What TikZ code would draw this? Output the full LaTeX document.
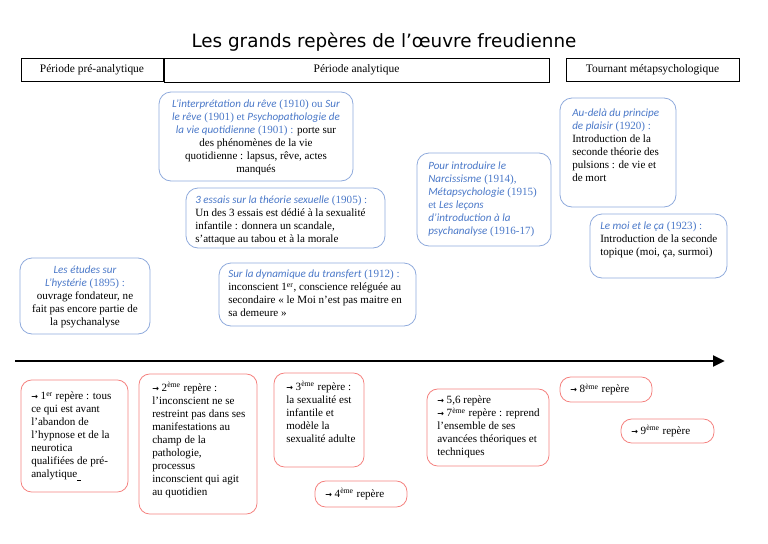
\documentclass[tikz,border=0pt]{standalone}
\usepackage{fontspec}
\setmainfont{Liberation Serif}
\newfontfamily\titlefont{DejaVu Sans}
\newfontfamily\bookfont{Carlito}
\newfontfamily\arrowfont{DejaVu Sans}
\usetikzlibrary{arrows.meta}

\definecolor{booktext}{HTML}{4A78C8}
\definecolor{bookline}{HTML}{8FAADC}
\definecolor{markline}{HTML}{F4817F}

\newcommand{\oeuvre}[1]{{\bookfont\itshape #1}}
\newcommand{\fl}{{\arrowfont\fontsize{6}{6}\selectfont\bfseries →}\ }
\newcommand{\eme}{\textsuperscript{ème}}

\begin{document}
\begin{tikzpicture}[x = 0.75pt, y = -0.75pt,
  bluebox/.style = {draw = bookline, line width = 0.6pt, rounded corners = 9pt},
  redbox/.style = {draw = markline, line width = 0.6pt, rounded corners = 8pt},
  headbox/.style = {draw, line width = 0.5pt, inner sep = 0pt, font = \fontsize{8.6}{9.75}\selectfont},
  txt/.style = {inner sep = 0pt, font = \fontsize{8.3}{9.75}\selectfont}]
\useasboundingbox (0, 0) rectangle (768, 543);
\node [inner sep = 0pt, font = \titlefont\fontsize{13.75}{15}\selectfont] (titre) at (384, 42) {Les grands repères de l’œuvre freudienne};

% periodes
\node [headbox, minimum width = 106.5pt, minimum height = 17.25pt] (preanalytique) at (92, 69.5) {Période pré-analytique};
\node [headbox, minimum width = 288.75pt, minimum height = 18pt] (analytique) at (356.5, 70) {Période analytique};
\node [headbox, minimum width = 129.75pt, minimum height = 17.25pt] (tournant) at (652.5, 69.5) {Tournant métapsychologique};

% oeuvres
\draw [bluebox] (159, 92) rectangle (353, 181);
\node [txt, anchor = north, align = center, text = booktext] (reve) at (256, 100) {\oeuvre{L’interprétation du rêve} (1910) ou \oeuvre{Sur}\\ \oeuvre{le rêve} (1901) et \oeuvre{Psychopathologie de}\\ \oeuvre{la vie quotidienne} (1901) : \textcolor{black}{porte sur}\\ \textcolor{black}{des phénomènes de la vie}\\ \textcolor{black}{quotidienne : lapsus, rêve, actes}\\ \textcolor{black}{manqués}};

\draw [bluebox] (186, 188) rectangle (385, 248);
\node [txt, anchor = north west, align = left] (essais) at (195, 196) {\textcolor{booktext}{\oeuvre{3 essais sur la théorie sexuelle} (1905) :}\\ Un des 3 essais est dédié à la sexualité\\ infantile : donnera un scandale,\\ s’attaque au tabou et à la morale};

\draw [bluebox] (20, 258) rectangle (150, 334);
\node [txt, anchor = north, align = center] (etudes) at (85, 266) {\textcolor{booktext}{\oeuvre{Les études sur}}\\ \textcolor{booktext}{\oeuvre{L’hystérie} (1895) :}\\ ouvrage fondateur, ne\\ fait pas encore partie de\\ la psychanalyse};

\draw [bluebox] (219, 263) rectangle (416, 326);
\node [txt, anchor = north west, align = left] (transfert) at (228, 270) {\textcolor{booktext}{\oeuvre{Sur la dynamique du transfert} (1912) :}\\ inconscient 1\textsuperscript{er}, conscience reléguée au\\ secondaire « le Moi n’est pas maitre en\\ sa demeure »};

\draw [bluebox] (417, 153) rectangle (551, 246);
\node [txt, anchor = north west, align = left, text = booktext] (narcissisme) at (428, 162) {\oeuvre{Pour introduire le}\\ \oeuvre{Narcissisme} (1914),\\ \oeuvre{Métapsychologie} (1915)\\ et \oeuvre{Les leçons}\\ \oeuvre{d’introduction à la}\\ \oeuvre{psychanalyse} (1916-17)};

\draw [bluebox] (560, 98) rectangle (676, 207);
\node [txt, anchor = north west, align = left] (plaisir) at (572, 109) {\textcolor{booktext}{\oeuvre{Au-delà du principe}}\\ \textcolor{booktext}{\oeuvre{de plaisir} (1920) :}\\ Introduction de la\\ seconde théorie des\\ pulsions : de vie et\\ de mort};

\draw [bluebox] (590, 214) rectangle (727, 278);
\node [txt, anchor = north west, align = left] (moica) at (600, 222) {\textcolor{booktext}{\oeuvre{Le moi et le ça} (1923) :}\\ Introduction de la seconde\\ topique (moi, ça, surmoi)};

% ligne du temps
\coordinate (debut) at (15, 361);
\coordinate (fin) at (725, 361);
\draw [line width = 2.2pt, -{Triangle[length = 9pt, width = 8pt]}] (debut) -- (fin);

% reperes
\draw [redbox] (21, 380) rectangle (128, 492);
\node [txt, anchor = north west, align = left] (rep1) at (31, 392) {\fl 1\textsuperscript{er} repère : tous\\ ce qui est avant\\ l’abandon de\\ l’hypnose et de la\\ neurotica\\ qualifiées de pré-\\ analytique\underline{\hspace{3pt}}};

\draw [redbox] (139, 374) rectangle (257, 514);
\node [txt, anchor = north west, align = left] (rep2) at (152, 382) {\fl 2\eme{} repère :\\ l’inconscient ne se\\ restreint pas dans ses\\ manifestations au\\ champ de la\\ pathologie,\\ processus\\ inconscient qui agit\\ au quotidien};

\draw [redbox] (274, 373) rectangle (364, 467);
\node [txt, anchor = north west, align = left] (rep3) at (286, 381) {\fl 3\eme{} repère :\\ la sexualité est\\ infantile et\\ modèle la\\ sexualité adulte};

\draw [redbox] (315, 481) rectangle (407, 507);
\node [txt, anchor = west] (rep4) at (325, 494) {\fl 4\eme{} repère};

\draw [redbox] (427, 389) rectangle (549, 466);
\node [txt, anchor = north west, align = left] (rep5) at (437, 396) {\fl 5,6 repère\\ \fl 7\eme{} repère : reprend\\ l’ensemble de ses\\ avancées théoriques et\\ techniques};

\draw [redbox] (560, 377) rectangle (652, 402);
\node [txt, anchor = west] (rep8) at (570, 389.5) {\fl 8\eme{} repère};

\draw [redbox] (621, 419) rectangle (714, 443);
\node [txt, anchor = west] (rep9) at (631, 431) {\fl 9\eme{} repère};
\end{tikzpicture}
\end{document}
